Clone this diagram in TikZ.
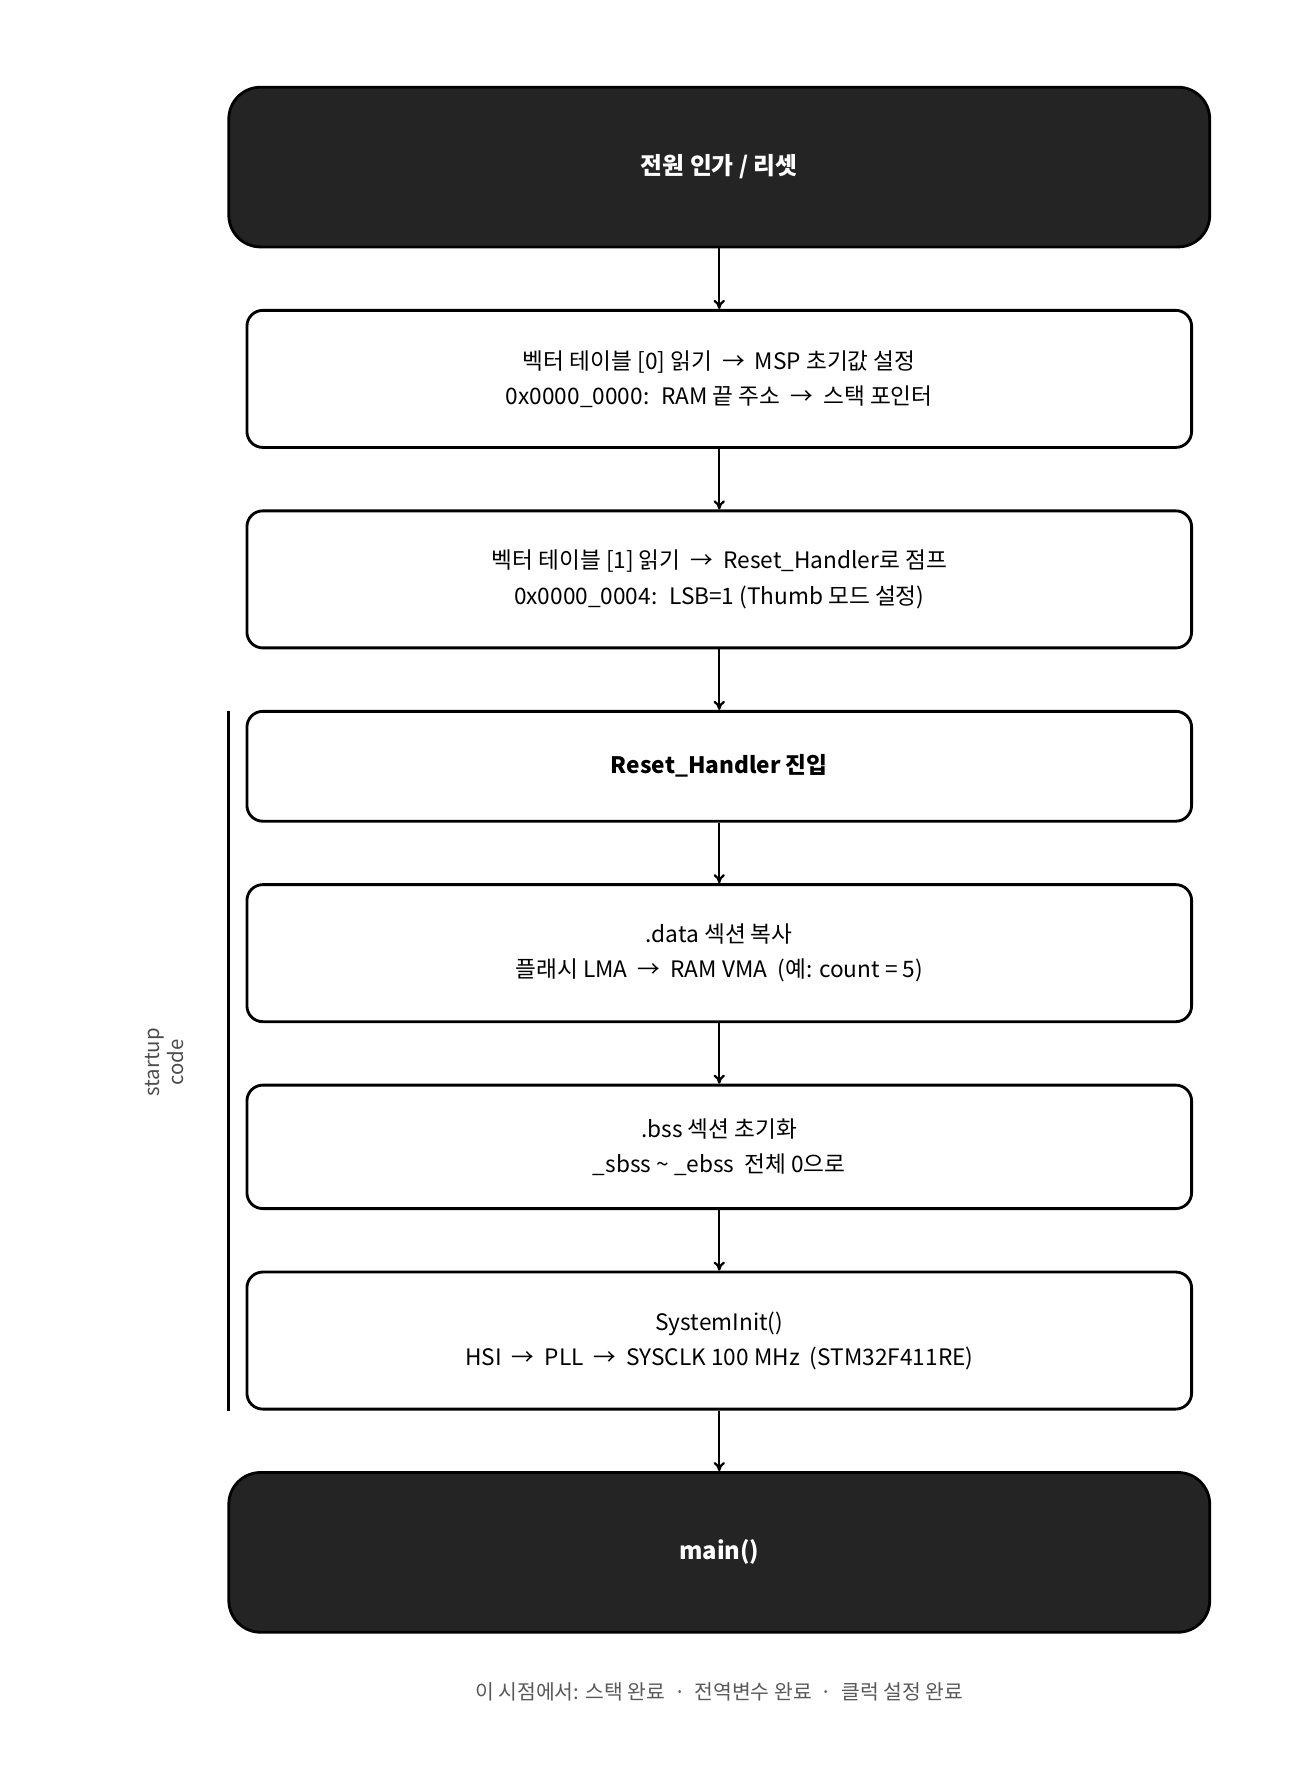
\documentclass[tikz,border=0pt]{standalone}
\usepackage{fontspec}
\setmainfont{Noto Sans CJK KR}
\usetikzlibrary{positioning,arrows.meta}
\tikzset{
  stage/.style={draw, line width=2.5pt, rounded corners=14pt, minimum width=834pt, minimum height=121pt, align=center, font=\fontsize{20}{31}\selectfont},
  term/.style={draw, fill=black!86, text=white, line width=2.5pt, rounded corners=28pt, minimum width=866pt, minimum height=141pt, font=\fontsize{21}{30}\selectfont\bfseries},
  flow/.style={-{To[length=8pt,width=10pt]}, line width=2pt}
}
\begin{document}
\begin{tikzpicture}[x=1pt,y=-1pt]
  \useasboundingbox (0,0) rectangle (1140,1560);
  \node[term] (reset) at (635,147.5) {전원 인가 / 리셋};
  \node[stage] (msp) at (635,334.5) {벡터 테이블 [0] 읽기 \ → \ MSP 초기값 설정\\0x0000\_0000: \ RAM 끝 주소 \ → \ 스택 포인터};
  \node[stage] (vec) at (635,511.5) {벡터 테이블 [1] 읽기 \ → \ Reset\_Handler로 점프\\0x0000\_0004: \ LSB=1 (Thumb 모드 설정)};
  \node[stage, minimum height=97pt, font=\fontsize{20}{31}\selectfont\bfseries] (entry) at (635,676.5) {Reset\_Handler 진입};
  \node[stage] (data) at (635,841.5) {.data 섹션 복사\\플래시 LMA \ → \ RAM VMA \ (예: count = 5)};
  \node[stage, minimum height=109pt] (bss) at (635,1012.5) {.bss 섹션 초기화\\\_sbss \textasciitilde{} \_ebss \ 전체 0으로};
  \node[stage] (sysinit) at (635,1183.5) {SystemInit()\\HSI \ → \ PLL \ → \ SYSCLK 100 MHz \ (STM32F411RE)};
  \node[term] (main) at (635,1370.5) {main()};

  \draw[flow] (reset) -- (msp);
  \draw[flow] (msp) -- (vec);
  \draw[flow] (vec) -- (entry);
  \draw[flow] (entry) -- (data);
  \draw[flow] (data) -- (bss);
  \draw[flow] (bss) -- (sysinit);
  \draw[flow] (sysinit) -- (main);

  % startup bracket
  \coordinate (btop) at (202,628);
  \coordinate (bbot) at (202,1246);
  \draw[line width=2.5pt] (btop) -- (bbot);
  \node[rotate=90, align=center, text=black!70, font=\fontsize{18}{21}\selectfont] (startup) at (145,938) {startup\\code};

  \node[text=black!65, font=\fontsize{18}{22}\selectfont] (note) at (635,1494) {이 시점에서: 스택 완료 \ · \ 전역변수 완료 \ · \ 클럭 설정 완료};
\end{tikzpicture}
\end{document}
